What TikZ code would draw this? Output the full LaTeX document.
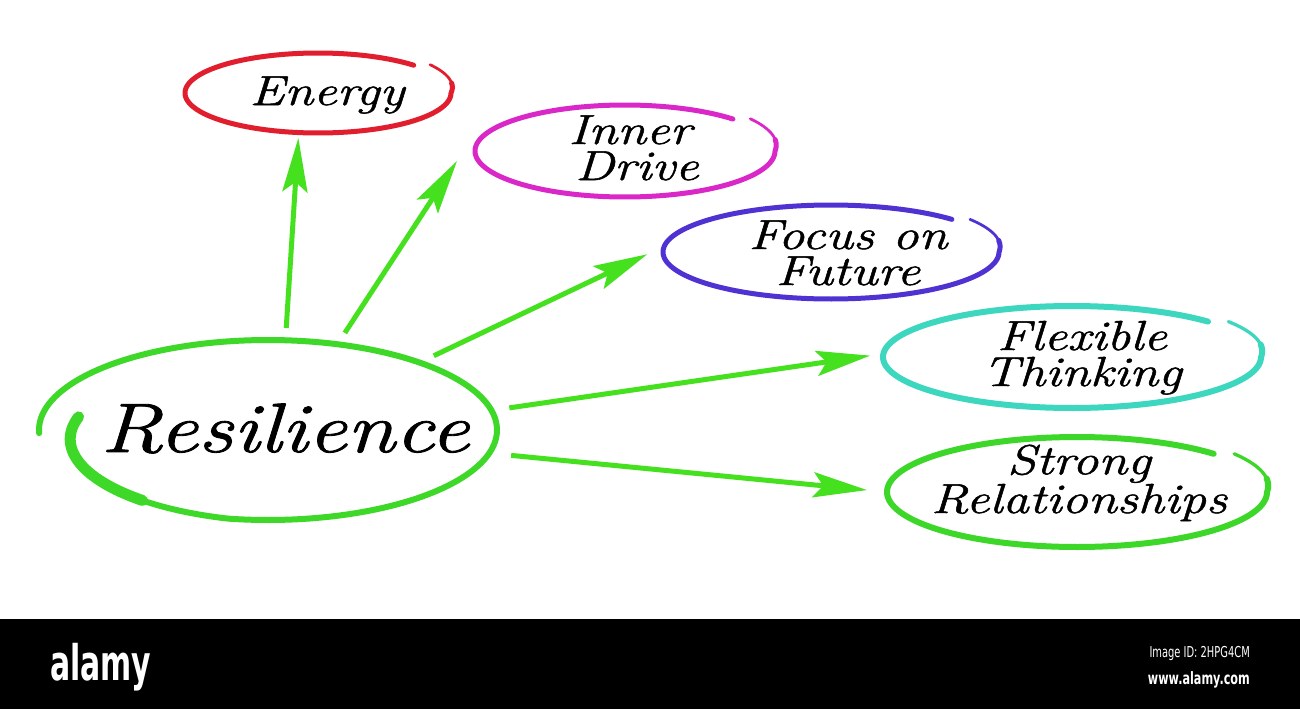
\documentclass[tikz,border=0pt]{standalone}
\usepackage{fontspec}
\usetikzlibrary{arrows.meta,calc,shapes.geometric}
\newfontfamily\hand{Latin Modern Roman}[FakeStretch=1.25,FakeBold=1.2]
\newfontfamily\wmfont{DejaVu Sans}
\definecolor{argreen}{RGB}{70,225,30}
\definecolor{resgreen}{RGB}{62,216,40}
\definecolor{engred}{RGB}{225,30,45}
\definecolor{drivemag}{RGB}{218,40,200}
\definecolor{focusblue}{RGB}{80,50,210}
\definecolor{flexteal}{RGB}{60,215,190}
\definecolor{stronggreen}{RGB}{60,215,40}
\newcommand\handell[7]{%
  \draw[#1,line width=#6,line cap=round,line join=round]
    plot[domain=-316:14,samples=160,variable=\t]
    ({#2+#4*cos(\t)*(1+#7*max(0,\t)/40)},{#3-#5*sin(\t)*(1+#7*max(0,\t)/40)});
  \draw[#1,line width=0.55*#6,line cap=round,line join=round]
    plot[domain=12:40,samples=30,variable=\t]
    ({#2+#4*cos(\t)*(1+#7*max(0,\t)/40)},{#3-#5*sin(\t)*(1+#7*max(0,\t)/40)});
}
\tikzset{
  ell/.style={ellipse,inner sep=0pt,outer sep=0pt,draw=none},
  arr/.style={draw=argreen,line width=5pt,-{Stealth[length=54pt,width=25pt,inset=10pt]}},
  txt/.style={font=\hand\itshape\fontsize{42}{36}\selectfont,inner sep=0pt,anchor=base,align=center},
  bigtxt/.style={font=\hand\itshape\fontsize{70}{70}\selectfont,inner sep=0pt,anchor=base},
  wm/.style={text=white,inner sep=0pt}
}
\begin{document}
\begin{tikzpicture}[x=1pt,y=-1pt]
\useasboundingbox (0,0) rectangle (1300,709);
\fill[white] (0,0) rectangle (1300,619);
\fill[black] (0,619) rectangle (1300,709);

% ellipse nodes
\node[ell,minimum width=458pt,minimum height=180pt] (res) at (268,430) {};
\node[ell,minimum width=266pt,minimum height=80pt] (energy) at (318,93) {};
\node[ell,minimum width=300pt,minimum height=92pt] (drive) at (625,151) {};
\node[ell,minimum width=336pt,minimum height=94pt] (focus) at (831,252) {};
\node[ell,minimum width=378pt,minimum height=102pt] (flex) at (1072,357) {};
\node[ell,minimum width=380pt,minimum height=110pt] (strong) at (1077,492) {};

% hand-drawn strokes
\handell{engred}{318}{93}{133}{40}{5pt}{0.10}
\handell{drivemag}{625}{151}{150}{46}{5pt}{0.09}
\handell{focusblue}{831}{252}{168}{47}{5pt}{0.08}
\handell{flexteal}{1072}{357}{189}{51}{6pt}{0.08}
\handell{stronggreen}{1077}{492}{190}{55}{6pt}{0.08}
\draw[resgreen,line width=6pt,line cap=round,line join=round]
  plot[domain=-190:182,samples=220,variable=\t]
  ({268+229*cos(\t)*(1-0.16*max(0,-100-\t)/90)},{430-90*sin(\t)*(1-0.16*max(0,-100-\t)/90)});
\draw[resgreen,line width=11pt,line cap=round,line join=round]
  plot[domain=-190:-125,samples=40,variable=\t]
  ({268+229*cos(\t)*(1-0.16*max(0,-100-\t)/90)},{430-90*sin(\t)*(1-0.16*max(0,-100-\t)/90)});

% texts (base anchor = baseline of the last line)
\node[bigtxt] (rest) at (285,452) {Resilience};
\node[txt] (energyt) at (327,105) {Energy};
\node[txt] (drivet) at (630,180) {Inner\\\hspace*{14pt}Drive};
\node[txt] (focust) at (848,285) {Focus on\\Future};
\node[txt] (flext) at (1082,386) {Flexible\\Thinking};
\node[txt] (strongt) at (1079,513) {Strong\\Relationships};

% arrows
\draw[arr,shorten <=12.25pt,shorten >=5.4pt] (res.79.3) -- (energy.244.8);
\draw[arr,shorten <=13.5pt] (res.51.2) -- ($(drive.west)+(-18,10)$);
\draw[arr,shorten <=15.8pt,shorten >=18.75pt] (res.24.4) -- (focus.178.3);
\draw[arr,shorten <=18pt,shorten >=13.3pt] (res.5.3) -- (flex.179.4);
\draw[arr,shorten <=22pt,shorten >=20pt] (res.354.65) -- (strong.west);

% footer band
\node[wm,anchor=base west,font=\wmfont\bfseries\fontsize{49}{49}\selectfont] (alamy) at (50,680) {\scalebox{0.61}[1]{alamy}};
\node[wm,anchor=base east,font=\wmfont\fontsize{15}{15}\selectfont] (imgid) at (1250,657) {\scalebox{0.66}[1]{Image ID: 2HPG4CM}};
\node[wm,anchor=base east,font=\wmfont\bfseries\fontsize{17}{17}\selectfont] (www) at (1250,684) {\scalebox{0.66}[1]{www.alamy.com}};
\end{tikzpicture}
\end{document}
